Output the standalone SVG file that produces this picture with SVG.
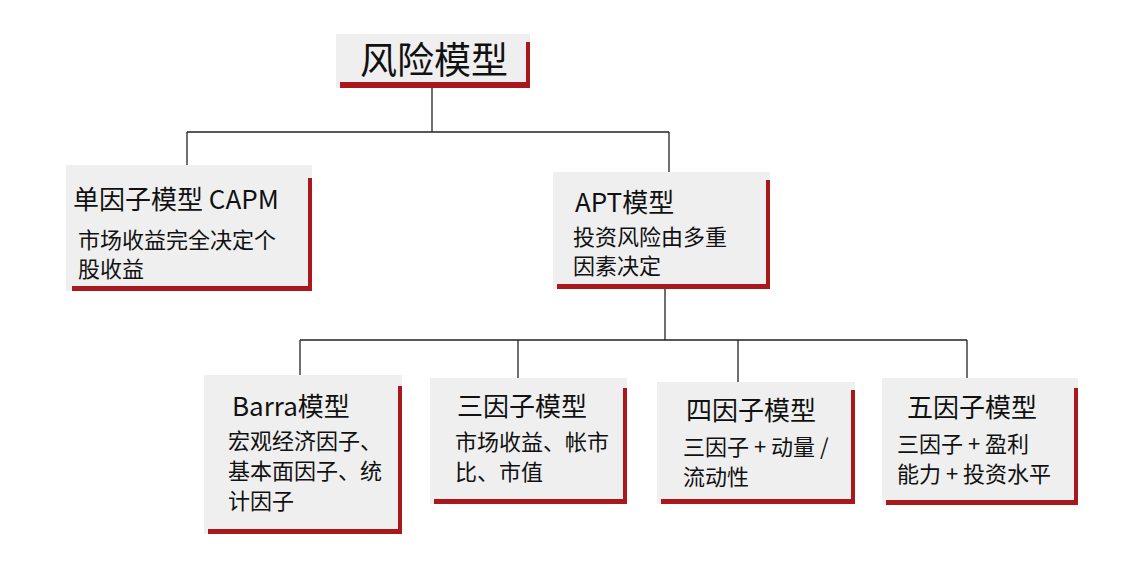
<svg xmlns="http://www.w3.org/2000/svg" width="1134" height="567" viewBox="0 0 1134 567">
<style>
.bx{fill:#efefef}
.rd{fill:#a8181c}
text{font-family:"Noto Sans CJK SC","Liberation Sans",sans-serif;fill:#111}
.t{font-size:26px}
.s{font-size:22px}
.c line{stroke:#222;stroke-width:1.3}
</style>
<rect width="1134" height="567" fill="#fff"/>
<g class="c" id="connectors">
<line x1="432" y1="88" x2="432" y2="132"/>
<line x1="187" y1="132" x2="669" y2="132"/>
<line x1="187" y1="132" x2="187" y2="165"/>
<line x1="669" y1="132" x2="669" y2="172"/>
<line x1="665" y1="288" x2="665" y2="340"/>
<line x1="300" y1="340" x2="967" y2="340"/>
<line x1="300" y1="340" x2="300" y2="375"/>
<line x1="518" y1="340" x2="518" y2="378"/>
<line x1="738" y1="340" x2="738" y2="382"/>
<line x1="967" y1="340" x2="967" y2="378"/>
</g>
<g id="root">
<rect class="bx" x="336" y="34" width="194" height="54"/>
<rect class="rd" x="340" y="82" width="190" height="6"/><rect class="rd" x="526" y="42" width="4" height="46"/>
<text x="434" y="74" font-size="37" text-anchor="middle">风险模型</text>
</g>
<g id="capm">
<rect class="bx" x="66" y="165" width="246" height="126"/>
<rect class="rd" x="72" y="286" width="240" height="5"/><rect class="rd" x="308" y="178" width="4" height="113"/>
<text class="t" x="73" y="209">单因子模型 CAPM</text>
<text class="s" x="78" y="248">市场收益完全决定个</text>
<text class="s" x="78" y="277">股收益</text>
</g>
<g id="apt">
<rect class="bx" x="553" y="172" width="217" height="117"/>
<rect class="rd" x="557" y="284" width="213" height="5"/><rect class="rd" x="766" y="180" width="4" height="109"/>
<text class="t" x="575" y="212">APT模型</text>
<text class="s" x="573" y="245">投资风险由多重</text>
<text class="s" x="573" y="274">因素决定</text>
</g>
<g id="barra">
<rect class="bx" x="204" y="375" width="198" height="159"/>
<rect class="rd" x="208" y="529" width="194" height="5"/><rect class="rd" x="398" y="386" width="4" height="148"/>
<text class="t" x="232" y="416">Barra模型</text>
<text class="s" x="228" y="449">宏观经济因子、</text>
<text class="s" x="228" y="479">基本面因子、统</text>
<text class="s" x="228" y="509">计因子</text>
</g>
<g id="three">
<rect class="bx" x="430" y="378" width="197" height="126"/>
<rect class="rd" x="434" y="499" width="193" height="5"/><rect class="rd" x="623" y="388" width="4" height="116"/>
<text class="t" x="457" y="416">三因子模型</text>
<text class="s" x="455" y="450">市场收益、帐市</text>
<text class="s" x="455" y="480">比、市值</text>
</g>
<g id="four">
<rect class="bx" x="657" y="382" width="198" height="122"/>
<rect class="rd" x="661" y="499" width="194" height="5"/><rect class="rd" x="851" y="390" width="4" height="114"/>
<text class="t" x="686" y="420">四因子模型</text>
<text class="s" x="683" y="455">三因子 + 动量 /</text>
<text class="s" x="683" y="485">流动性</text>
</g>
<g id="five">
<rect class="bx" x="882" y="378" width="196" height="127"/>
<rect class="rd" x="886" y="500" width="192" height="5"/><rect class="rd" x="1074" y="388" width="4" height="117"/>
<text class="t" x="907" y="417">五因子模型</text>
<text class="s" x="897" y="452">三因子 + 盈利</text>
<text class="s" x="897" y="482">能力 + 投资水平</text>
</g>
</svg>
